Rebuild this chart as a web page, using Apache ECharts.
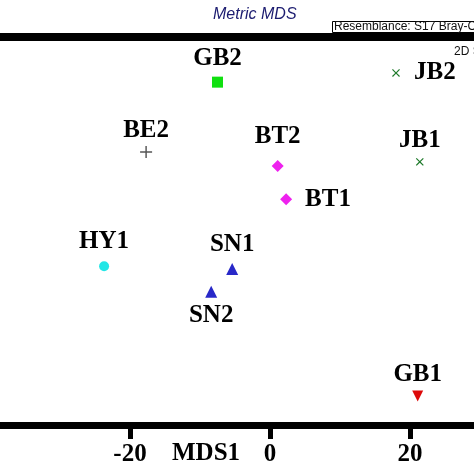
<!DOCTYPE html>
<html>
<head>
<meta charset="utf-8">
<script src="https://cdn.jsdelivr.net/npm/echarts@6/dist/echarts.min.js"></script>
<style>html,body{margin:0;padding:0;background:#fff}#c{width:474px;height:474px}</style>
</head>
<body>
<div id="c"></div>
<script>
// ---- data ----
const samples = ['GB2', 'BE2', 'BT2', 'BT1', 'JB2', 'JB1', 'HY1', 'SN1', 'SN2', 'GB1'];
const mds1 = [-7.5, -17.7, 1.1, 2.3, 18.0, 21.4, -23.7, -5.4, -8.4, 21.1];
const mds2 = [18.6, 8.7, 6.7, 2.0, 19.9, 7.3, -7.5, -7.9, -11.1, -25.9];
const xTicks = [-20, 0, 20];

// ---- styles (kept separate from data) ----
const plusPath = 'path://M4.4,0H5.6V4.4H10V5.6H5.6V10H4.4V5.6H0V4.4H4.4Z';
const markerStyle = {
  GB2: { symbol: 'rect', size: 11, rotate: 0, color: '#10e010' },
  BE2: { symbol: plusPath, size: 12, rotate: 0, color: '#555555' },
  BT:  { symbol: 'diamond', size: 12, rotate: 0, color: '#ee22ee' },
  JB:  { symbol: plusPath, size: 10, rotate: 45, color: '#1e7a2a' },
  HY1: { symbol: 'circle', size: 10, rotate: 0, color: '#22e6e6' },
  SN:  { symbol: 'triangle', size: 12, rotate: 0, color: '#2828c8' },
  GB1: { symbol: 'triangle', size: 11, rotate: 180, color: '#dd0a0a' }
};
const labelStyle = {
  GB2: ['top', 6], BE2: ['top', 3], BT2: ['top', 11], BT1: ['right', 13],
  JB2: ['right', 11], JB1: ['top', 2], HY1: ['top', 7], SN1: ['top', 6],
  SN2: ['bottom', 5], GB1: ['top', 4]
};
function styleKey(n) {
  if (markerStyle[n]) return n;
  return n.slice(0, 2);
}

const data = samples.map((n, i) => {
  const m = markerStyle[styleKey(n)];
  const l = labelStyle[n];
  return {
    name: n,
    value: [mds1[i], mds2[i]],
    symbol: m.symbol,
    symbolSize: m.size,
    symbolRotate: m.rotate,
    itemStyle: { color: m.color, opacity: 1 },
    label: { position: l[0], distance: l[1] }
  };
});

const serif = 'Liberation Serif, Times New Roman, serif';
const chart = echarts.init(document.getElementById('c'), null, { renderer: 'canvas' });
chart.setOption({
  animation: false,
  backgroundColor: '#ffffff',
  title: [
    { text: 'Metric MDS', left: 208, top: 2,
      textStyle: { fontFamily: 'Liberation Sans, Arial', fontSize: 16, fontStyle: 'italic', fontWeight: 'normal', color: '#1c1c70' } },
    { text: 'Resemblance: S17 Bray-Curtis similarity', left: 332, top: 21, padding: [0, 2, 0, 2],
      borderColor: '#000', borderWidth: 1, backgroundColor: '#fff',
      textStyle: { fontFamily: 'Liberation Sans, Arial', fontSize: 12, fontWeight: 'normal', color: '#111', lineHeight: 12 } },
    { text: '2D Stress: 0.1', left: 454, top: 46, padding: 0,
      textStyle: { fontFamily: 'Liberation Sans, Arial', fontSize: 12, fontWeight: 'normal', color: '#111' } },
    { text: 'MDS1', left: 172, top: 441, padding: 0,
      textStyle: { fontFamily: serif, fontSize: 25, fontWeight: 'bold', color: '#000' } }
  ],
  grid: { left: 0, right: 0, top: 37, bottom: 49, containLabel: false },
  xAxis: [
    {
      type: 'value', min: -38.571, max: 29.143, position: 'bottom',
      splitLine: { show: false },
      axisLine: { show: true, onZero: false, lineStyle: { color: '#000', width: 7 } },
      axisTick: { show: true, length: 14, lineStyle: { color: '#000', width: 5 },
        customValues: xTicks },
      axisLabel: { margin: 17, color: '#000', fontFamily: serif, fontSize: 25, fontWeight: 'bold',
        customValues: xTicks, formatter: v => String(v) }
    },
    {
      type: 'value', min: -38.571, max: 29.143, position: 'top',
      splitLine: { show: false },
      axisLine: { show: true, onZero: false, lineStyle: { color: '#000', width: 8 } },
      axisTick: { show: false }, axisLabel: { show: false }
    }
  ],
  yAxis: { type: 'value', min: -30, max: 25, show: false, splitLine: { show: false } },
  series: [{
    type: 'scatter',
    xAxisIndex: 0,
    data: data,
    label: { show: true, formatter: '{b}', fontFamily: serif, fontSize: 25, fontWeight: 'bold', color: '#000', opacity: 1 },
    emphasis: { disabled: true }
  }]
});
</script>
</body>
</html>
